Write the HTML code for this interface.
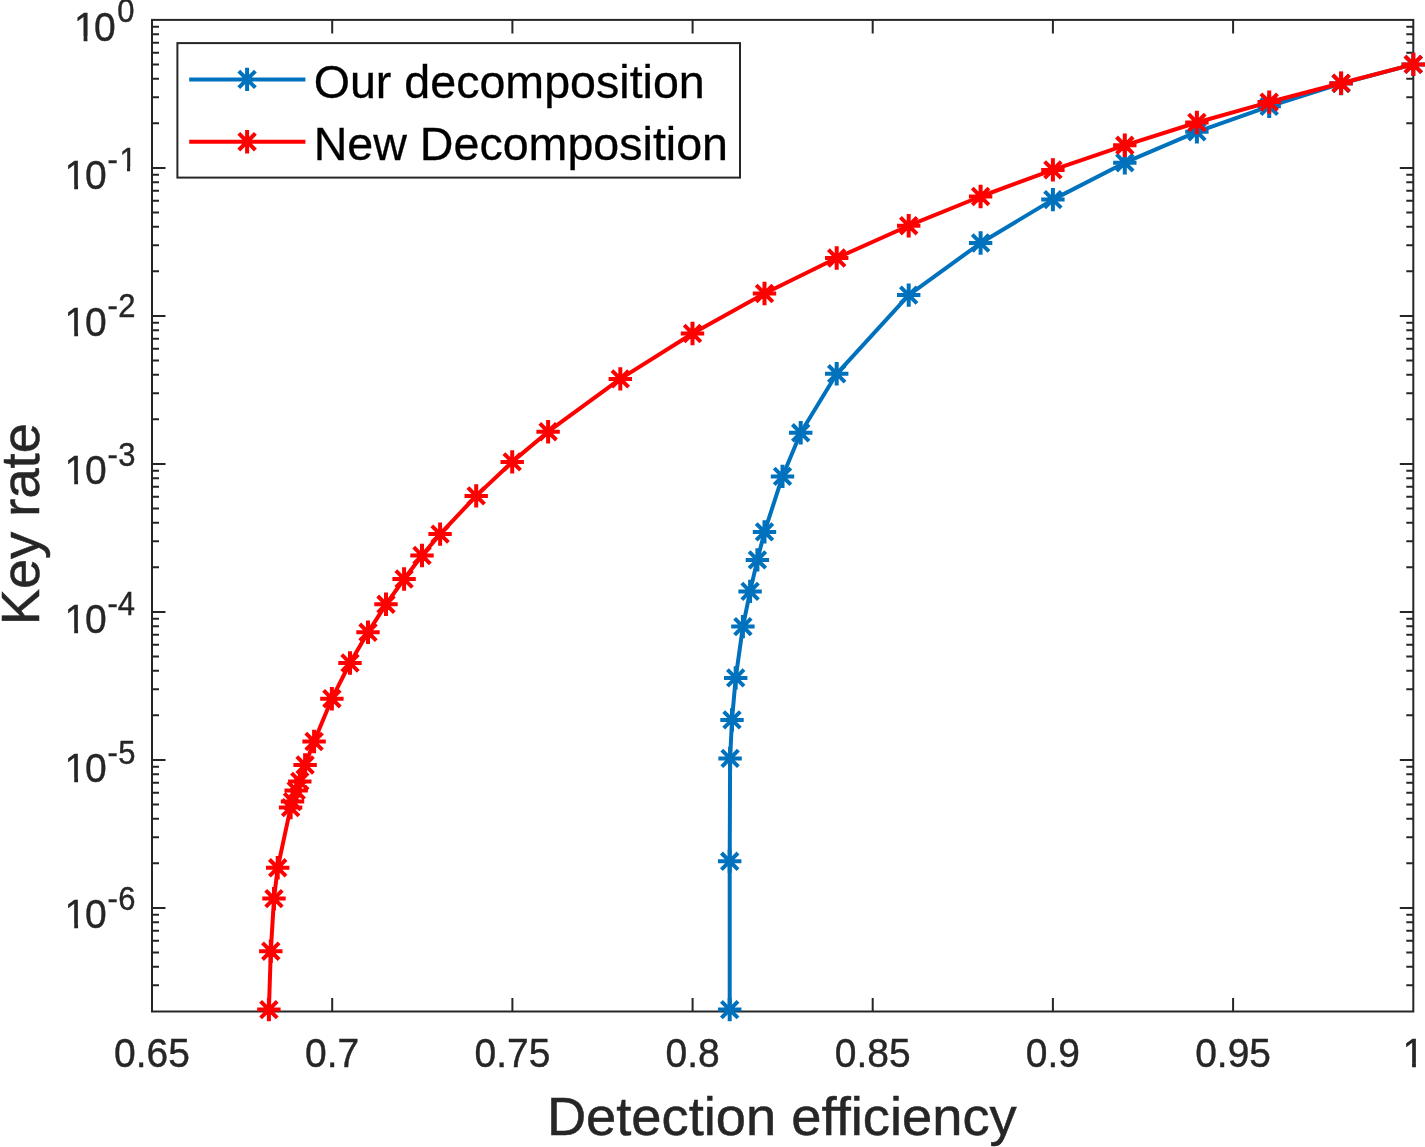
<!DOCTYPE html>
<html lang="en">
<head>
<meta charset="utf-8">
<title>Key rate vs detection efficiency</title>
<style>
html,body{margin:0;padding:0;background:#fff;}
body{width:1425px;height:1147px;overflow:hidden;}
svg{display:block;}
text{font-family:"Liberation Sans",Arial,Helvetica,sans-serif;fill:#262626;}
.tk{font-size:39px;stroke:#262626;stroke-width:0.4px;}
.ex{font-size:31px;}
.lb{font-size:54.3px;stroke:#262626;stroke-width:0.5px;}
.lg{font-size:46.6px;fill:#000;stroke:#000;stroke-width:0.3px;}
</style>
</head>
<body>
<svg width="1425" height="1147" viewBox="0 0 1425 1147">
<rect x="0" y="0" width="1425" height="1147" fill="#fff"/>
<path d="M332.2 1011.5V998.0M332.2 19.9V33.4M512.4 1011.5V998.0M512.4 19.9V33.4M692.6 1011.5V998.0M692.6 19.9V33.4M872.7 1011.5V998.0M872.7 19.9V33.4M1052.9 1011.5V998.0M1052.9 19.9V33.4M1233.1 1011.5V998.0M1233.1 19.9V33.4M152.0 123.3H159.0M1413.3 123.3H1406.3M152.0 97.3H159.0M1413.3 97.3H1406.3M152.0 78.8H159.0M1413.3 78.8H1406.3M152.0 64.5H159.0M1413.3 64.5H1406.3M152.0 52.7H159.0M1413.3 52.7H1406.3M152.0 42.8H159.0M1413.3 42.8H1406.3M152.0 34.2H159.0M1413.3 34.2H1406.3M152.0 26.7H159.0M1413.3 26.7H1406.3M152.0 167.9H165.5M1413.3 167.9H1399.8M152.0 271.3H159.0M1413.3 271.3H1406.3M152.0 245.3H159.0M1413.3 245.3H1406.3M152.0 226.8H159.0M1413.3 226.8H1406.3M152.0 212.5H159.0M1413.3 212.5H1406.3M152.0 200.7H159.0M1413.3 200.7H1406.3M152.0 190.8H159.0M1413.3 190.8H1406.3M152.0 182.2H159.0M1413.3 182.2H1406.3M152.0 174.7H159.0M1413.3 174.7H1406.3M152.0 315.9H165.5M1413.3 315.9H1399.8M152.0 419.3H159.0M1413.3 419.3H1406.3M152.0 393.3H159.0M1413.3 393.3H1406.3M152.0 374.8H159.0M1413.3 374.8H1406.3M152.0 360.5H159.0M1413.3 360.5H1406.3M152.0 348.7H159.0M1413.3 348.7H1406.3M152.0 338.8H159.0M1413.3 338.8H1406.3M152.0 330.2H159.0M1413.3 330.2H1406.3M152.0 322.7H159.0M1413.3 322.7H1406.3M152.0 463.9H165.5M1413.3 463.9H1399.8M152.0 567.3H159.0M1413.3 567.3H1406.3M152.0 541.3H159.0M1413.3 541.3H1406.3M152.0 522.8H159.0M1413.3 522.8H1406.3M152.0 508.5H159.0M1413.3 508.5H1406.3M152.0 496.7H159.0M1413.3 496.7H1406.3M152.0 486.8H159.0M1413.3 486.8H1406.3M152.0 478.2H159.0M1413.3 478.2H1406.3M152.0 470.7H159.0M1413.3 470.7H1406.3M152.0 611.9H165.5M1413.3 611.9H1399.8M152.0 715.3H159.0M1413.3 715.3H1406.3M152.0 689.3H159.0M1413.3 689.3H1406.3M152.0 670.8H159.0M1413.3 670.8H1406.3M152.0 656.5H159.0M1413.3 656.5H1406.3M152.0 644.7H159.0M1413.3 644.7H1406.3M152.0 634.8H159.0M1413.3 634.8H1406.3M152.0 626.2H159.0M1413.3 626.2H1406.3M152.0 618.7H159.0M1413.3 618.7H1406.3M152.0 759.9H165.5M1413.3 759.9H1399.8M152.0 863.3H159.0M1413.3 863.3H1406.3M152.0 837.3H159.0M1413.3 837.3H1406.3M152.0 818.8H159.0M1413.3 818.8H1406.3M152.0 804.5H159.0M1413.3 804.5H1406.3M152.0 792.7H159.0M1413.3 792.7H1406.3M152.0 782.8H159.0M1413.3 782.8H1406.3M152.0 774.2H159.0M1413.3 774.2H1406.3M152.0 766.7H159.0M1413.3 766.7H1406.3M152.0 907.9H165.5M1413.3 907.9H1399.8M152.0 985.3H159.0M1413.3 985.3H1406.3M152.0 966.8H159.0M1413.3 966.8H1406.3M152.0 952.5H159.0M1413.3 952.5H1406.3M152.0 940.7H159.0M1413.3 940.7H1406.3M152.0 930.8H159.0M1413.3 930.8H1406.3M152.0 922.2H159.0M1413.3 922.2H1406.3M152.0 914.7H159.0M1413.3 914.7H1406.3" fill="none" stroke="#262626" stroke-width="2"/>
<rect x="152.0" y="19.9" width="1261.3" height="991.6" fill="none" stroke="#262626" stroke-width="2"/>
<path d="M729.7 1009.6L729.7 861.3L730.1 758.4L732.0 719.9L735.7 677.9L742.9 626.6L750.1 591.4L757.4 559.9L764.5 531.9L782.5 476.4L800.7 432.8L836.7 373.8L908.7 295.1L980.6 243.0L1052.9 199.6L1124.8 162.7L1196.9 131.8L1269.2 106.3L1341.1 83.5L1413.3 64.4" fill="none" stroke="#0072BD" stroke-width="4" stroke-linejoin="round"/>
<path d="M718.0 1009.6H741.4M729.7 997.9V1021.3M721.4 1001.3L738.0 1017.9M721.4 1017.9L738.0 1001.3M718.0 861.3H741.4M729.7 849.6V873.0M721.4 853.0L738.0 869.6M721.4 869.6L738.0 853.0M718.4 758.4H741.8M730.1 746.7V770.1M721.8 750.1L738.4 766.7M721.8 766.7L738.4 750.1M720.3 719.9H743.7M732.0 708.2V731.6M723.7 711.6L740.3 728.2M723.7 728.2L740.3 711.6M724.0 677.9H747.4M735.7 666.2V689.6M727.4 669.6L744.0 686.2M727.4 686.2L744.0 669.6M731.2 626.6H754.6M742.9 614.9V638.3M734.6 618.3L751.2 634.9M734.6 634.9L751.2 618.3M738.4 591.4H761.8M750.1 579.7V603.1M741.8 583.1L758.4 599.7M741.8 599.7L758.4 583.1M745.7 559.9H769.1M757.4 548.2V571.6M749.1 551.6L765.7 568.2M749.1 568.2L765.7 551.6M752.8 531.9H776.2M764.5 520.2V543.6M756.2 523.6L772.8 540.2M756.2 540.2L772.8 523.6M770.8 476.4H794.2M782.5 464.7V488.1M774.2 468.1L790.8 484.7M774.2 484.7L790.8 468.1M789.0 432.8H812.4M800.7 421.1V444.5M792.4 424.5L809.0 441.1M792.4 441.1L809.0 424.5M825.0 373.8H848.4M836.7 362.1V385.5M828.4 365.5L845.0 382.1M828.4 382.1L845.0 365.5M897.0 295.1H920.4M908.7 283.4V306.8M900.4 286.8L917.0 303.4M900.4 303.4L917.0 286.8M968.9 243.0H992.3M980.6 231.3V254.7M972.3 234.7L988.9 251.3M972.3 251.3L988.9 234.7M1041.2 199.6H1064.6M1052.9 187.9V211.3M1044.6 191.3L1061.2 207.9M1044.6 207.9L1061.2 191.3M1113.1 162.7H1136.5M1124.8 151.0V174.4M1116.5 154.4L1133.1 171.0M1116.5 171.0L1133.1 154.4M1185.2 131.8H1208.6M1196.9 120.1V143.5M1188.6 123.5L1205.2 140.1M1188.6 140.1L1205.2 123.5M1257.5 106.3H1280.9M1269.2 94.6V118.0M1260.9 98.0L1277.5 114.6M1260.9 114.6L1277.5 98.0M1329.4 83.5H1352.8M1341.1 71.8V95.2M1332.8 75.2L1349.4 91.8M1332.8 91.8L1349.4 75.2M1401.6 64.4H1425.0M1413.3 52.7V76.1M1405.0 56.1L1421.6 72.7M1405.0 72.7L1421.6 56.1" fill="none" stroke="#0072BD" stroke-width="4"/>
<path d="M268.9 1009.6L270.8 951.2L274.0 898.6L277.7 867.8L290.6 807.6L292.5 801.6L296.2 790.5L299.8 781.4L305.1 765.0L314.1 741.5L331.9 698.7L350.0 663.0L368.0 632.3L386.0 604.3L404.1 579.0L422.0 555.5L440.1 534.1L476.2 495.9L512.2 461.9L548.1 431.7L620.3 378.9L692.5 333.5L764.5 293.5L836.7 258.0L908.7 225.7L980.6 196.5L1052.9 169.9L1124.8 145.3L1196.9 122.5L1269.2 102.1L1341.1 83.2L1413.3 64.4" fill="none" stroke="#FF0000" stroke-width="4" stroke-linejoin="round"/>
<path d="M257.2 1009.6H280.6M268.9 997.9V1021.3M260.6 1001.3L277.2 1017.9M260.6 1017.9L277.2 1001.3M259.1 951.2H282.5M270.8 939.5V962.9M262.5 942.9L279.1 959.5M262.5 959.5L279.1 942.9M262.3 898.6H285.7M274.0 886.9V910.3M265.7 890.3L282.3 906.9M265.7 906.9L282.3 890.3M266.0 867.8H289.4M277.7 856.1V879.5M269.4 859.5L286.0 876.1M269.4 876.1L286.0 859.5M278.9 807.6H302.3M290.6 795.9V819.3M282.3 799.3L298.9 815.9M282.3 815.9L298.9 799.3M280.8 801.6H304.2M292.5 789.9V813.3M284.2 793.3L300.8 809.9M284.2 809.9L300.8 793.3M284.5 790.5H307.9M296.2 778.8V802.2M287.9 782.2L304.5 798.8M287.9 798.8L304.5 782.2M288.1 781.4H311.5M299.8 769.7V793.1M291.5 773.1L308.1 789.7M291.5 789.7L308.1 773.1M293.4 765.0H316.8M305.1 753.3V776.7M296.8 756.7L313.4 773.3M296.8 773.3L313.4 756.7M302.4 741.5H325.8M314.1 729.8V753.2M305.8 733.2L322.4 749.8M305.8 749.8L322.4 733.2M320.2 698.7H343.6M331.9 687.0V710.4M323.6 690.4L340.2 707.0M323.6 707.0L340.2 690.4M338.3 663.0H361.7M350.0 651.3V674.7M341.7 654.7L358.3 671.3M341.7 671.3L358.3 654.7M356.3 632.3H379.7M368.0 620.6V644.0M359.7 624.0L376.3 640.6M359.7 640.6L376.3 624.0M374.3 604.3H397.7M386.0 592.6V616.0M377.7 596.0L394.3 612.6M377.7 612.6L394.3 596.0M392.4 579.0H415.8M404.1 567.3V590.7M395.8 570.7L412.4 587.3M395.8 587.3L412.4 570.7M410.3 555.5H433.7M422.0 543.8V567.2M413.7 547.2L430.3 563.8M413.7 563.8L430.3 547.2M428.4 534.1H451.8M440.1 522.4V545.8M431.8 525.8L448.4 542.4M431.8 542.4L448.4 525.8M464.5 495.9H487.9M476.2 484.2V507.6M467.9 487.6L484.5 504.2M467.9 504.2L484.5 487.6M500.5 461.9H523.9M512.2 450.2V473.6M503.9 453.6L520.5 470.2M503.9 470.2L520.5 453.6M536.4 431.7H559.8M548.1 420.0V443.4M539.8 423.4L556.4 440.0M539.8 440.0L556.4 423.4M608.6 378.9H632.0M620.3 367.2V390.6M612.0 370.6L628.6 387.2M612.0 387.2L628.6 370.6M680.8 333.5H704.2M692.5 321.8V345.2M684.2 325.2L700.8 341.8M684.2 341.8L700.8 325.2M752.8 293.5H776.2M764.5 281.8V305.2M756.2 285.2L772.8 301.8M756.2 301.8L772.8 285.2M825.0 258.0H848.4M836.7 246.3V269.7M828.4 249.7L845.0 266.3M828.4 266.3L845.0 249.7M897.0 225.7H920.4M908.7 214.0V237.4M900.4 217.4L917.0 234.0M900.4 234.0L917.0 217.4M968.9 196.5H992.3M980.6 184.8V208.2M972.3 188.2L988.9 204.8M972.3 204.8L988.9 188.2M1041.2 169.9H1064.6M1052.9 158.2V181.6M1044.6 161.6L1061.2 178.2M1044.6 178.2L1061.2 161.6M1113.1 145.3H1136.5M1124.8 133.6V157.0M1116.5 137.0L1133.1 153.6M1116.5 153.6L1133.1 137.0M1185.2 122.5H1208.6M1196.9 110.8V134.2M1188.6 114.2L1205.2 130.8M1188.6 130.8L1205.2 114.2M1257.5 102.1H1280.9M1269.2 90.4V113.8M1260.9 93.8L1277.5 110.4M1260.9 110.4L1277.5 93.8M1329.4 83.2H1352.8M1341.1 71.5V94.9M1332.8 74.9L1349.4 91.5M1332.8 91.5L1349.4 74.9M1401.6 64.4H1425.0M1413.3 52.7V76.1M1405.0 56.1L1421.6 72.7M1405.0 72.7L1421.6 56.1" fill="none" stroke="#FF0000" stroke-width="4"/>
<text class="tk" transform="translate(152.0 1067.1) scale(1 1.045)" text-anchor="middle">0.65</text>
<text class="tk" transform="translate(332.2 1067.1) scale(1 1.045)" text-anchor="middle">0.7</text>
<text class="tk" transform="translate(512.4 1067.1) scale(1 1.045)" text-anchor="middle">0.75</text>
<text class="tk" transform="translate(692.6 1067.1) scale(1 1.045)" text-anchor="middle">0.8</text>
<text class="tk" transform="translate(872.7 1067.1) scale(1 1.045)" text-anchor="middle">0.85</text>
<text class="tk" transform="translate(1052.9 1067.1) scale(1 1.045)" text-anchor="middle">0.9</text>
<text class="tk" transform="translate(1233.1 1067.1) scale(1 1.045)" text-anchor="middle">0.95</text>
<text class="tk" transform="translate(1413.3 1067.1) scale(1 1.045)" text-anchor="middle">1</text>
<rect x="1403.83" y="1062.56" width="8.24" height="6.04" fill="#fff"/><rect x="1415.91" y="1062.56" width="7.93" height="6.04" fill="#fff"/>
<text class="tk" transform="translate(0 40.9) scale(1 1.045)" x="74.0 94.0">10<tspan class="ex" x="117.2" dy="-17.70">0</tspan></text>
<rect x="75.37" y="36.36" width="8.24" height="6.04" fill="#fff"/><rect x="87.45" y="36.36" width="7.93" height="6.04" fill="#fff"/>
<text class="tk" transform="translate(0 189.4) scale(1 1.045)" x="64.6 85.0">10<tspan class="ex" x="107.5 119.4" dy="-17.70">-1</tspan></text>
<rect x="65.97" y="184.86" width="8.24" height="6.04" fill="#fff"/><rect x="78.05" y="184.86" width="7.93" height="6.04" fill="#fff"/>
<rect x="120.16" y="166.98" width="6.83" height="5.42" fill="#fff"/><rect x="130.14" y="166.98" width="6.59" height="5.42" fill="#fff"/>
<text class="tk" transform="translate(0 335.9) scale(1 1.045)" x="64.6 85.0">10<tspan class="ex" x="107.5 118.2" dy="-17.70">-2</tspan></text>
<rect x="65.97" y="331.36" width="8.24" height="6.04" fill="#fff"/><rect x="78.05" y="331.36" width="7.93" height="6.04" fill="#fff"/>
<text class="tk" transform="translate(0 484.4) scale(1 1.045)" x="64.6 85.0">10<tspan class="ex" x="107.5 118.2" dy="-17.70">-3</tspan></text>
<rect x="65.97" y="479.86" width="8.24" height="6.04" fill="#fff"/><rect x="78.05" y="479.86" width="7.93" height="6.04" fill="#fff"/>
<text class="tk" transform="translate(0 633.1) scale(1 1.045)" x="64.6 85.0">10<tspan class="ex" x="107.5 117.8" dy="-17.70">-4</tspan></text>
<rect x="65.97" y="628.56" width="8.24" height="6.04" fill="#fff"/><rect x="78.05" y="628.56" width="7.93" height="6.04" fill="#fff"/>
<text class="tk" transform="translate(0 782.0) scale(1 1.045)" x="64.6 85.0">10<tspan class="ex" x="107.5 118.2" dy="-17.70">-5</tspan></text>
<rect x="65.97" y="777.46" width="8.24" height="6.04" fill="#fff"/><rect x="78.05" y="777.46" width="7.93" height="6.04" fill="#fff"/>
<text class="tk" transform="translate(0 928.1) scale(1 1.045)" x="64.6 85.0">10<tspan class="ex" x="107.5 118.2" dy="-17.70">-6</tspan></text>
<rect x="65.97" y="923.56" width="8.24" height="6.04" fill="#fff"/><rect x="78.05" y="923.56" width="7.93" height="6.04" fill="#fff"/>
<text class="lb" x="781.8" y="1135.1" text-anchor="middle">Detection efficiency</text>
<text class="lb" transform="translate(38.7 524.2) rotate(-90)" text-anchor="middle">Key rate</text>
<rect x="177.4" y="43.1" width="562.6" height="134.5" fill="#fff" stroke="#262626" stroke-width="2"/>
<path d="M189.2 79.4H305.4M235.4 79.4H258.8M247.1 67.7V91.1M238.8 71.1L255.4 87.7M238.8 87.7L255.4 71.1" fill="none" stroke="#0072BD" stroke-width="4"/>
<text class="lg" x="313.7" y="97.8">Our decomposition</text>
<path d="M189.2 141.7H305.4M235.4 141.7H258.8M247.1 130.0V153.4M238.8 133.4L255.4 150.0M238.8 150.0L255.4 133.4" fill="none" stroke="#FF0000" stroke-width="4"/>
<text class="lg" x="313.7" y="160.3">New Decomposition</text>
</svg>
</body>
</html>
